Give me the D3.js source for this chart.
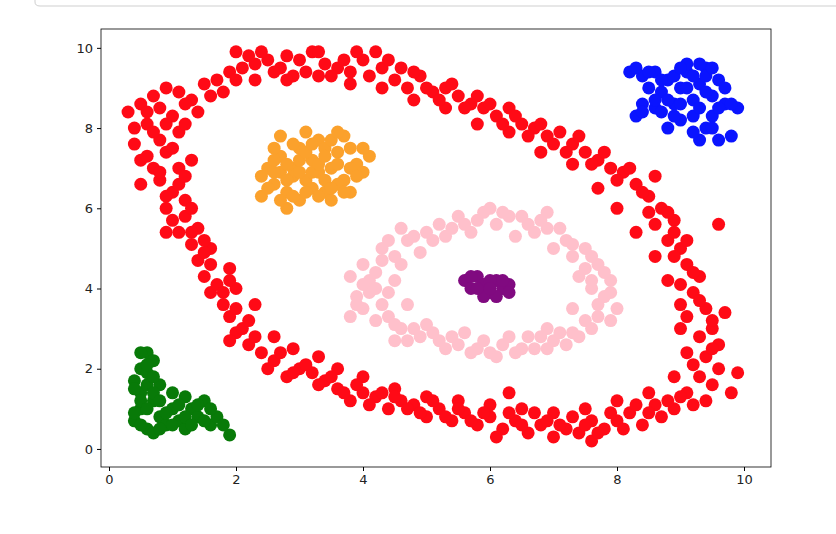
<!DOCTYPE html>
<html><head><meta charset="utf-8">
<script src="https://cdn.jsdelivr.net/npm/d3@7"></script>
<style>body{margin:0;background:#fff;}text{font-family:"DejaVu Sans",sans-serif;}</style>
</head><body>
<svg id="c" width="836" height="534"></svg>
<script>
// points, [x, y]
var redPts = [[0.3,8.4],[0.5,8.6],[0.7,8.8],[0.9,9.0],[1.1,8.9],[0.6,8.1],[0.4,7.6],[0.5,7.2],[0.8,7.7],[1.0,8.3],[1.3,8.7],[1.5,9.1],[1.7,9.2],[1.9,9.4],[2.1,9.5],[2.3,9.6],[2.5,9.7],[2.0,9.9],[2.4,9.9],[2.7,9.5],[2.9,9.3],[3.0,9.7],[3.2,9.9],[3.4,9.6],[3.6,9.5],[3.8,9.4],[4.0,9.7],[4.1,9.3],[4.3,9.5],[4.5,9.2],[4.2,9.9],[4.7,9.0],[4.9,9.3],[5.1,8.9],[5.3,9.0],[5.5,8.8],[5.7,8.6],[5.9,8.5],[6.1,8.3],[6.3,8.5],[6.5,8.1],[6.7,8.0],[6.9,7.8],[7.1,7.9],[7.3,7.6],[7.5,7.4],[7.7,7.2],[7.9,7.0],[8.1,6.9],[8.3,6.6],[8.5,6.3],[8.7,6.0],[8.9,5.7],[8.6,5.6],[8.8,5.2],[9.0,5.0],[9.1,4.6],[9.3,4.3],[9.2,3.9],[9.4,3.5],[9.5,3.0],[9.6,2.6],[9.4,2.3],[9.6,2.0],[9.3,1.8],[9.1,1.4],[9.4,1.2],[8.9,1.0],[8.7,0.8],[8.4,0.6],[8.6,1.1],[8.2,0.9],[8.0,0.7],[7.8,0.5],[7.6,0.7],[7.4,0.4],[7.2,0.5],[7.0,0.3],[6.8,0.6],[6.6,0.4],[6.4,0.7],[6.2,0.5],[6.0,0.8],[5.8,0.6],[5.6,0.9],[5.4,0.7],[5.2,1.0],[5.0,0.8],[4.8,1.1],[4.6,1.2],[4.4,1.0],[4.2,1.3],[4.0,1.4],[3.8,1.2],[3.6,1.5],[3.4,1.7],[3.2,1.9],[3.0,2.0],[2.8,1.8],[2.6,2.2],[2.4,2.4],[2.2,2.6],[2.0,2.9],[1.9,3.3],[2.1,3.0],[1.8,3.6],[1.6,3.9],[1.5,4.3],[1.7,4.1],[1.4,4.7],[1.3,5.1],[1.1,5.4],[1.2,5.8],[0.9,6.0],[1.0,6.4],[0.8,6.7],[1.1,7.0],[0.7,7.0],[0.9,7.4],[1.3,7.2],[1.2,6.2],[1.4,5.5],[1.6,5.0],[1.9,4.5],[2.0,4.0],[2.3,3.6],[2.6,2.8],[2.9,2.5],[3.3,2.3],[3.6,2.0],[4.0,1.8],[4.5,1.5],[5.0,1.3],[5.5,1.2],[6.0,1.1],[6.5,1.0],[7.0,0.9],[7.5,1.0],[8.0,1.2],[8.5,1.4],[8.9,1.8],[9.1,2.4],[9.0,3.0],[9.0,3.6],[8.8,4.2],[8.6,4.8],[8.3,5.4],[8.0,6.0],[7.7,6.5],[7.3,7.1],[6.8,7.4],[6.3,7.9],[5.8,8.1],[5.3,8.5],[4.8,8.7],[4.3,9.0],[3.8,9.1],[3.3,9.3],[2.8,9.2],[2.3,9.2],[1.8,8.9],[1.4,8.4],[1.1,7.9],[9.7,3.4],[9.8,1.4],[7.6,0.2],[1.9,2.7],[9.6,5.6],[6.3,1.4],[9.9,1.9],
  [0.4,8.0],[0.6,8.4],[0.8,8.5],[1.2,8.6],[1.6,8.8],[2.0,9.2],[2.2,9.8],[2.6,9.4],[2.8,9.8],[3.1,9.4],[3.3,9.9],[3.5,9.3],[3.7,9.7],[3.9,9.9],[4.4,9.7],[4.6,9.5],[4.8,9.4],[5.0,9.0],[5.2,8.7],[5.4,9.1],[5.6,8.5],[5.8,8.8],[6.0,8.6],[6.2,8.1],[6.4,8.3],[6.6,7.8],[6.8,8.1],[7.0,7.6],[7.2,7.4],[7.4,7.8],[7.6,7.1],[7.8,7.4],[8.0,6.7],[8.2,7.0],[8.4,6.4],[8.6,6.8],[8.8,5.9],[8.5,5.9],[8.9,5.4],[9.1,5.2],[8.9,4.8],[9.2,4.4],[9.0,4.1],[9.3,3.7],[9.1,3.3],[9.5,3.2],[9.3,2.8],[9.5,2.5],[9.2,2.1],[9.5,1.6],[9.2,1.1],[9.0,1.3],[8.8,1.2],[8.5,0.9],[8.3,1.1],[8.1,0.5],[7.9,0.9],[7.7,0.4],[7.5,0.6],[7.3,0.8],[7.1,0.6],[6.9,0.7],[6.7,0.9],[6.5,0.6],[6.3,0.9],[6.1,0.3],[5.9,0.9],[5.7,0.7],[5.5,1.0],[5.3,0.8],[5.1,1.2],[4.9,0.9],[4.7,1.0],[4.5,1.3],[4.3,1.4],[4.1,1.1],[3.9,1.6],[3.7,1.4],[3.5,1.8],[3.3,1.6],[3.1,2.1],[2.9,1.9],[2.7,2.4],[2.5,2.0],[2.3,2.8],[2.2,3.2],[2.0,3.5],[1.8,3.9],[1.9,4.2],[1.6,4.6],[1.5,4.9],[1.3,5.4],[1.5,5.2],[1.0,5.7],[1.3,6.0],[0.9,6.3],[1.1,6.6],[0.8,6.9],[1.2,6.8],[0.6,7.3],[1.0,7.5],[0.7,7.9],[0.9,8.1],[1.2,8.1],[0.5,6.6],[0.9,5.4]];
var pinkPts = [[4.0,3.5],[3.9,3.8],[4.1,4.2],[4.0,4.6],[4.3,5.0],[4.2,4.0],[4.4,3.3],[4.6,3.0],[4.4,3.9],[4.6,4.6],[4.7,5.2],[5.0,5.4],[5.2,5.6],[5.5,5.8],[5.8,5.7],[6.0,6.0],[6.3,5.8],[6.6,5.6],[6.9,5.5],[7.2,5.2],[7.5,5.0],[7.3,4.8],[7.7,4.6],[7.9,4.2],[7.8,3.8],[8.0,3.5],[7.7,3.3],[7.6,3.0],[7.3,2.9],[7.0,2.7],[6.7,2.5],[6.4,2.4],[6.1,2.3],[5.8,2.5],[5.5,2.6],[5.2,2.7],[4.9,2.8],[4.7,3.6],[3.8,3.3],[4.5,2.7],[5.1,5.2],[5.7,5.4],[6.4,5.3],[7.0,5.0],[7.4,4.3],[7.3,3.5],[6.9,3.0],[6.3,2.8],[5.6,2.9],[5.0,3.1],[4.9,4.9],[6.9,5.9],[7.6,4.0],[6.6,2.8],
  [3.9,3.6],[4.1,3.9],[4.2,4.4],[4.3,4.7],[4.5,4.8],[4.4,5.2],[4.6,5.5],[4.8,5.3],[5.3,5.3],[5.4,5.5],[5.6,5.6],[5.9,5.9],[6.1,5.6],[6.2,5.9],[6.5,5.8],[6.7,5.4],[6.8,5.7],[7.1,5.5],[7.3,5.1],[7.6,4.8],[7.5,4.5],[7.8,4.4],[7.6,4.2],[7.9,3.9],[7.7,3.6],[7.9,3.2],[7.5,3.2],[7.4,2.8],[7.1,2.9],[7.2,2.6],[6.9,2.5],[6.8,2.8],[6.5,2.5],[6.2,2.6],[6.0,2.4],[5.9,2.7],[5.7,2.4],[5.4,2.8],[5.3,2.5],[5.1,2.9],[4.8,3.0],[4.7,2.7],[4.5,3.1],[4.3,3.6],[4.2,3.2],[4.5,4.2],[4.0,4.1],[3.8,4.3]];
var orangePts = [[2.4,6.3],[2.6,6.6],[2.5,7.0],[2.7,7.3],[2.7,7.8],[2.9,7.0],[2.8,6.4],[3.0,6.2],[3.1,6.7],[3.0,7.5],[3.2,7.2],[3.3,6.9],[3.3,7.7],[3.4,6.4],[3.5,7.0],[3.6,7.4],[3.7,7.8],[3.7,6.7],[3.9,7.1],[4.0,6.9],[4.1,7.3],[3.8,6.4],[3.5,6.2],[2.8,6.0],[2.9,6.8],[3.1,7.9],[2.6,7.5],[3.2,6.5],[3.4,7.5],[3.6,6.6],[2.7,6.9],
  [2.5,6.5],[2.6,6.9],[2.7,6.2],[2.8,7.1],[2.9,7.6],[2.9,6.3],[3.0,6.9],[3.0,7.2],[3.1,6.4],[3.1,7.4],[3.2,6.9],[3.2,7.6],[3.3,6.3],[3.3,7.1],[3.4,6.7],[3.4,7.3],[3.5,6.5],[3.5,7.7],[3.6,7.1],[3.7,6.4],[3.8,7.0],[3.8,7.5],[3.9,6.8],[4.0,7.5],[2.4,6.8],[2.6,7.2],[2.8,6.7],[3.6,7.9]];
var bluePts = [[8.2,9.4],[8.4,9.3],[8.5,9.0],[8.4,8.6],[8.3,8.3],[8.6,8.5],[8.7,8.9],[8.8,9.2],[8.9,8.6],[9.0,9.0],[9.1,9.4],[9.2,8.7],[9.3,9.1],[9.4,9.5],[9.5,8.8],[9.6,9.2],[9.7,8.6],[9.9,8.5],[9.8,7.8],[9.6,7.7],[9.3,7.7],[9.2,8.3],[9.0,8.2],[8.8,8.0],[9.5,8.3],[9.1,9.6],[8.6,9.4],[9.4,8.0],
  [8.3,9.5],[8.5,9.4],[8.6,8.7],[8.4,8.4],[8.7,9.2],[8.8,8.7],[8.9,9.3],[9.0,8.6],[9.1,9.0],[9.2,9.3],[9.3,8.5],[9.4,8.9],[9.4,9.3],[9.5,9.5],[9.6,8.5],[9.7,9.0],[9.8,8.6],[9.5,8.0],[9.2,7.9],[8.9,8.3],[8.7,8.4],[9.0,9.5],[9.3,9.6]];
var greenPts = [[0.4,0.7],[0.5,1.0],[0.5,1.4],[0.4,1.7],[0.5,2.0],[0.6,2.4],[0.7,2.2],[0.6,1.6],[0.7,1.2],[0.8,0.8],[0.9,0.6],[1.0,1.0],[1.1,0.7],[1.2,0.5],[1.3,1.0],[1.4,0.8],[1.5,1.2],[1.6,0.6],[1.7,0.8],[1.9,0.35],[0.6,0.5],[0.8,1.6],[1.0,1.4],[1.2,1.3],[0.7,0.4],[0.5,2.4],
  [0.4,0.9],[0.5,1.2],[0.4,1.5],[0.6,1.9],[0.6,2.1],[0.7,1.4],[0.6,1.0],[0.8,1.2],[0.9,0.9],[0.8,0.5],[1.0,0.6],[1.1,1.1],[1.2,0.8],[1.3,0.6],[1.4,1.1],[1.5,0.7],[1.6,1.0],[1.8,0.6],[0.5,0.6],[0.7,1.8]];
var purplePts = [[5.6,4.2],[5.7,4.0],[5.8,4.3],[5.9,4.1],[6.0,3.9],[6.1,4.2],[6.2,4.0],[6.3,4.1],[5.9,3.8],[6.1,3.8],
  [5.7,4.3],[5.8,4.0],[6.0,4.2],[6.2,4.2],[6.0,4.0],[6.3,3.9]];
var groups = [
  {pts: redPts, color: "#ff0a16"},
  {pts: orangePts, color: "#fba12c"},
  {pts: pinkPts, color: "#ffc0cb"},
  {pts: bluePts, color: "#0a14ff"},
  {pts: greenPts, color: "#087a08"},
  {pts: purplePts, color: "#800a80"}
];
var xTicks = [0, 2, 4, 6, 8, 10];
var yTicks = [0, 2, 4, 6, 8, 10];

var svg = d3.select("#c");
// notebook cell border at top
svg.append("path").attr("d", "M35,-5 L35,2 Q35,6 40,6 L836,6").attr("fill", "none").attr("stroke", "#cfcfcf");

var pLeft = 101, pRight = 771, pTop = 29, pBottom = 467;
var x = d3.scaleLinear().domain([-0.126, 10.425]).range([pLeft, pRight]);
var y = d3.scaleLinear().domain([-0.45, 10.47]).range([pBottom, pTop]);

var plot = svg.append("g");
groups.forEach(function(g) {
  plot.selectAll(null).data(g.pts).enter().append("circle")
    .attr("cx", function(d) { return x(d[0]); })
    .attr("cy", function(d) { return y(d[1]); })
    .attr("r", 6.5).attr("fill", g.color);
});

svg.append("rect").attr("x", pLeft).attr("y", pTop).attr("width", pRight - pLeft).attr("height", pBottom - pTop)
  .attr("fill", "none").attr("stroke", "#000").attr("stroke-width", 0.8);

var xa = svg.append("g").attr("transform", "translate(0," + pBottom + ")")
  .call(d3.axisBottom(x).tickValues(xTicks).tickSize(4).tickPadding(4));
var ya = svg.append("g").attr("transform", "translate(" + pLeft + ",0)")
  .call(d3.axisLeft(y).tickValues(yTicks).tickSize(4).tickPadding(4));
[xa, ya].forEach(function(a) {
  a.select(".domain").remove();
  a.selectAll("text").attr("font-size", 13).attr("fill", "#222").style("font-family", "DejaVu Sans");
});
</script>
</body></html>
